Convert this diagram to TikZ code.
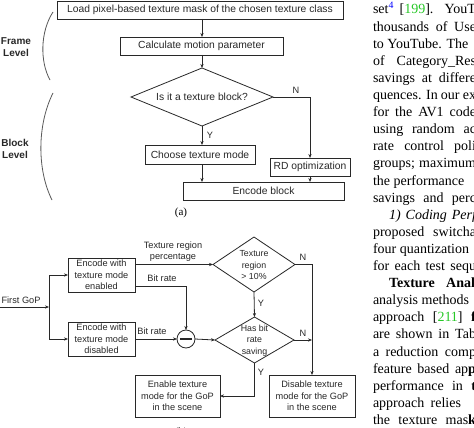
\documentclass[tikz,border=0pt]{standalone}
\usepackage{fontspec}
\setmainfont{Liberation Serif}
\newfontfamily\arial{Liberation Sans}
\usetikzlibrary{shapes.geometric,arrows.meta,calc}
\definecolor{citegreen}{RGB}{40,200,40}
\definecolor{ink}{RGB}{40,40,40}
\begin{document}
\begin{tikzpicture}[x=1pt,y=-1pt,
  every node/.style={inner sep=0pt, outer sep=0pt, text=ink},
  box/.style={draw=ink, line width=0.8pt, rectangle, align=center, font=\arial\fontsize{10.3}{12}\selectfont},
  bbox/.style={draw=ink, line width=0.8pt, rectangle, align=center, font=\arial\fontsize{9.2}{11.3}\selectfont},
  diashape/.style={draw=ink, line width=0.8pt, diamond},
  diatext/.style={align=center, font=\arial\fontsize{8.8}{11.5}\selectfont},
  conn/.style={draw=ink, line width=0.8pt},
  arr/.style={draw=ink, line width=0.8pt, -{Stealth[length=4pt,width=3.2pt]}},
  lbl/.style={font=\arial\fontsize{9.2}{11}\selectfont, align=center},
  lvl/.style={font=\arial\bfseries\fontsize{10}{12}\selectfont, align=center},
  brace/.style={draw=black!65, line width=0.8pt},
  col/.style={anchor=base west, font=\fontsize{14}{16}\selectfont, text=black},
]
\useasboundingbox (0,0) rectangle (474,428);
\clip (0,0) rectangle (474,428);
\fill[white] (0,0) rectangle (474,428);

% ---------- (a) ----------
\node[box, minimum width=286pt, minimum height=18pt] (load) at (200,10) {Load pixel-based texture mask of the chosen texture class};
\node[box, minimum width=163pt, minimum height=18pt] (calc) at (201.5,46) {Calculate motion parameter};
\node[diashape, minimum width=142pt, minimum height=58pt] (isit) at (202,97) {};
\node[font=\arial\fontsize{10.3}{12}\selectfont] (isitt) at (isit.center) {Is it a texture block?};
\node[box, minimum width=110pt, minimum height=19pt] (choose) at (200,154.5) {Choose texture mode};
\node[box, minimum width=80pt, minimum height=18pt] (rd) at (310,167) {RD optimization};
\node[box, minimum width=161pt, minimum height=18pt] (enc) at (263.5,191) {Encode block};

\draw[arr] (load.south -| isit.north) -- (calc.north -| isit.north);
\draw[arr] (calc.south -| isit.north) -- (isit.north);
\draw[arr] (isit.south) -- (isit.south |- choose.north);
\draw[arr] (isit.east) -| (rd.north);
\draw[arr] (choose.south -| isit.south) -- (enc.north -| isit.south);
\draw[arr] (rd.south) -- (rd.south |- enc.north);
\node[lbl] (ya) at (210,135) {Y};
\node[lbl] (na) at (296,90) {N};

\draw[brace] (53,12) .. controls (40,32) and (40,62) .. (50,80);
\draw[brace] (53,93) .. controls (37,125) and (37,170) .. (52,200);
\node[lvl] (fl) at (16,47) {Frame\\Level};
\node[lvl] (bl) at (15,149) {Block\\Level};
\node[font=\fontsize{11}{13}\selectfont, text=black] (capa) at (181,213) {(a)};

% ---------- (b) ----------
\node[lbl] (first) at (21,300) {First GoP};
\coordinate (gin) at (0,307);
\coordinate (split) at (49,307);
\node[bbox, minimum width=67pt, minimum height=34pt] (enab) at (101.5,275) {Encode with\\texture mode\\enabled};
\node[bbox, minimum width=67pt, minimum height=34pt] (disab) at (101.5,339) {Encode with\\texture mode\\disabled};
\node[circle, draw=ink, line width=0.8pt, minimum size=18pt] (minus) at (186,339) {};
\draw[ink, line width=1.8pt] ($(minus.center)+(-6,0)$) -- ($(minus.center)+(6,0)$);
\node[diashape, minimum width=82pt, minimum height=55pt] (d1) at (254,264.5) {};
\node[diatext] (d1t) at (254,265.5) {Texture\\region\\> 10\%};
\node[diashape, minimum width=79pt, minimum height=46pt] (d2) at (254.5,340) {};
\node[diatext] (d2t) at (254.5,340.5) {Has bit\\rate\\saving};
\node[bbox, minimum width=85pt, minimum height=42pt] (en) at (177.5,396) {Enable texture\\mode for the GoP\\in the scene};
\node[bbox, minimum width=86pt, minimum height=42pt] (dis) at (312,396) {Disable texture\\mode for the GoP\\in the scene};

\draw[arr] (gin) -- (split);
\draw[arr] (split) |- (enab.west);
\draw[arr] (split) |- (disab.west);
\draw[arr] (d1.west -| enab.east) -- (d1.west);
\coordinate (bru) at ($(enab.east)+(0,11)$);
\draw[arr] (bru) -| (minus.north);
\draw[arr] (disab.east) -- (minus.west);
\draw[arr] (minus.east) -- (d2.west);
\draw[arr] (d1.south) -- (d2.north);
\draw[arr] (d1.east) -| (dis.north);
\draw[arr] (d2.east) -- (d2.east -| dis.north);
\draw[arr] (d2.south) |- (en.east);

\node[lbl] (trp) at (173,251.5) {Texture region\\percentage};
\node[lbl] (br1) at (162,278) {Bit rate};
\node[lbl] (br2) at (152,331) {Bit rate};
\node[lbl] (yb1) at (261,303) {Y};
\node[lbl] (yb2) at (261,372) {Y};
\node[lbl] (nb1) at (303,257) {N};
\node[lbl] (nb2) at (303,333) {N};
\node[font=\fontsize{11}{13}\selectfont, text=black] (capb) at (181,433) {(b)};

% ---------- text column ----------
\node[col] (c0) at (373,14) {\makebox[103pt][s]{set\textsuperscript{\textcolor{blue}{4}} [\textcolor{citegreen}{199}]. YouT}};
\node[col] (c1) at (373,31.1) {\makebox[103pt][s]{thousands of Use}};
\node[col] (c2) at (373,48.2) {to YouTube. The};
\node[col] (c3) at (373,65.3) {\makebox[103pt][s]{of Category\_Res}};
\node[col] (c4) at (373,82.4) {\makebox[103pt][s]{savings at differe}};
\node[col] (c5) at (373,99.5) {\makebox[103pt][s]{quences. In our ex}};
\node[col] (c6) at (373,116.6) {\makebox[103pt][s]{for the AV1 code}};
\node[col] (c7) at (373,133.7) {\makebox[103pt][s]{using random ac}};
\node[col] (c8) at (373,150.8) {\makebox[103pt][s]{rate control poli}};
\node[col] (c9) at (373,167.9) {\makebox[103pt][s]{groups; maximum}};
\node[col] (c10) at (373,185) {the performance};
\node[col] (c11) at (373,202.1) {\makebox[103pt][s]{savings and perc}};
\node[col] (c12) at (389,219.2) {\makebox[87pt][s]{\itshape 1) Coding Perf}};
\node[col] (c13) at (373,236.3) {\makebox[103pt][s]{proposed switcha}};
\node[col] (c14) at (373,253.4) {four quantization};
\node[col] (c15) at (373,270.5) {\makebox[103pt][s]{for each test sequ}};
\node[col] (c16) at (389,287.6) {\makebox[86pt][s]{\bfseries Texture Anal}};
\node[col] (c17) at (373,304.7) {analysis methods};
\node[col] (c18) at (373,321.8) {\makebox[103pt][s]{approach [\textcolor{citegreen}{211}] \textbf{f}}};
\node[col] (c19) at (373,338.9) {\makebox[103pt][s]{are shown in Tab}};
\node[col] (c20) at (373,356) {\makebox[103pt][s]{a reduction comp}};
\node[col] (c21) at (373,373.1) {\makebox[103pt][s]{feature based ap\textbf{p}}};
\node[col] (c22) at (373,390.2) {\makebox[103pt][s]{performance in \textbf{t}}};
\node[col] (c23) at (373,407.3) {\makebox[88pt][s]{approach relies}};
\node[col] (c24) at (373,424.4) {\makebox[103pt][s]{the texture mas\textbf{k}}};
\end{tikzpicture}
\end{document}
